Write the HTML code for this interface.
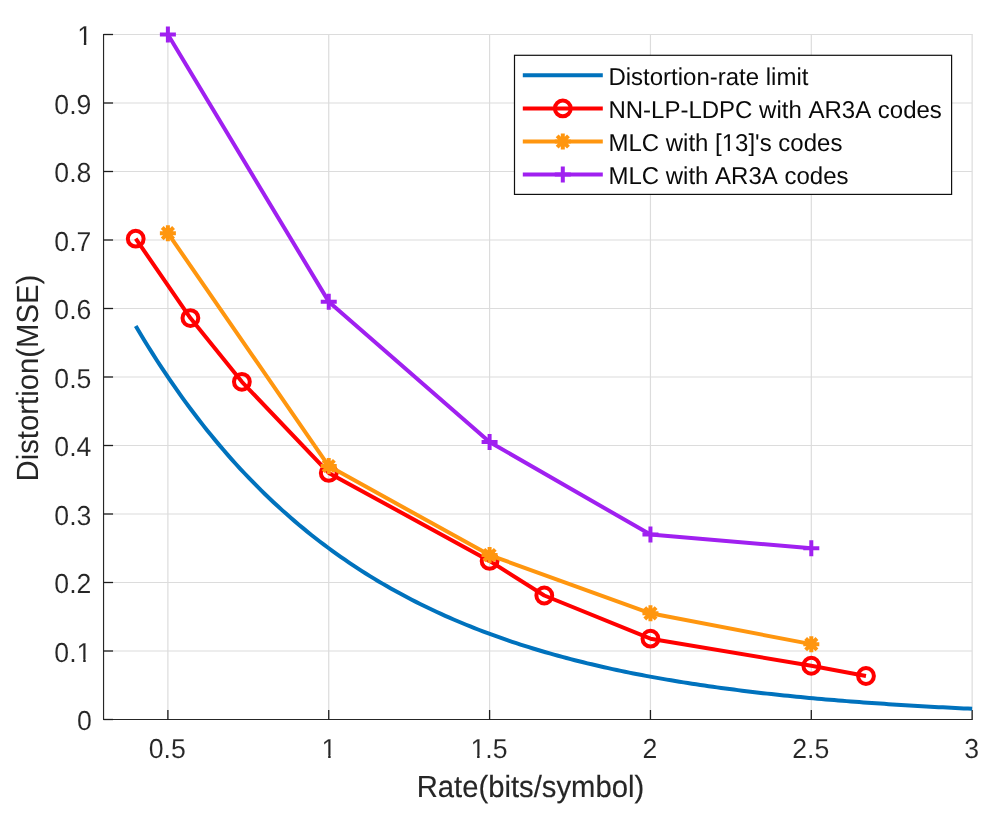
<!DOCTYPE html>
<html lang="en"><head><meta charset="utf-8"><title>Distortion vs Rate</title>
<style>
html,body{margin:0;padding:0;background:#fff;}
body{width:1002px;height:816px;overflow:hidden;}
svg{display:block;}
text{font-family:"Liberation Sans",Arial,Helvetica,sans-serif;fill:#262626;font-kerning:none;text-rendering:geometricPrecision;font-variant-ligatures:none;stroke:#fff;stroke-width:0.2px;paint-order:fill stroke;}
.tick{stroke-width:0.1px;}
.tick{font-size:26.67px;}
.lab{font-size:29.33px;stroke:#262626;stroke-width:0.15px;}
.ylab{stroke:none;}
.leg{font-size:24px;fill:#0a0a0a;stroke:none;}
</style></head><body>
<svg width="1002" height="816" viewBox="0 0 1002 816">
<rect width="1002" height="816" fill="#fff"/>
<g stroke="#dcdcdc" stroke-width="1.2" fill="none">
<line x1="167.89" y1="719.5" x2="167.89" y2="34.5"/>
<line x1="328.74" y1="719.5" x2="328.74" y2="34.5"/>
<line x1="489.59" y1="719.5" x2="489.59" y2="34.5"/>
<line x1="650.45" y1="719.5" x2="650.45" y2="34.5"/>
<line x1="811.30" y1="719.5" x2="811.30" y2="34.5"/>
<line x1="972.15" y1="719.5" x2="972.15" y2="34.5"/>
<line x1="103.55" y1="651.00" x2="972.15" y2="651.00"/>
<line x1="103.55" y1="582.50" x2="972.15" y2="582.50"/>
<line x1="103.55" y1="514.00" x2="972.15" y2="514.00"/>
<line x1="103.55" y1="445.50" x2="972.15" y2="445.50"/>
<line x1="103.55" y1="377.00" x2="972.15" y2="377.00"/>
<line x1="103.55" y1="308.50" x2="972.15" y2="308.50"/>
<line x1="103.55" y1="240.00" x2="972.15" y2="240.00"/>
<line x1="103.55" y1="171.50" x2="972.15" y2="171.50"/>
<line x1="103.55" y1="103.00" x2="972.15" y2="103.00"/>
<line x1="103.55" y1="34.50" x2="972.75" y2="34.50"/>
</g>
<g stroke="#262626" stroke-width="1.15" fill="none" stroke-linecap="butt">
<path d="M103.55 33.95 V719.5 H972.6999999999999"/>
<g stroke-width="1.3" stroke="#1e1e1e">
<line x1="167.89" y1="719.5" x2="167.89" y2="710.0"/>
<line x1="328.74" y1="719.5" x2="328.74" y2="710.0"/>
<line x1="489.59" y1="719.5" x2="489.59" y2="710.0"/>
<line x1="650.45" y1="719.5" x2="650.45" y2="710.0"/>
<line x1="811.30" y1="719.5" x2="811.30" y2="710.0"/>
<line x1="972.15" y1="719.5" x2="972.15" y2="710.0"/>
<line x1="103.55" y1="719.50" x2="113.05" y2="719.50"/>
<line x1="103.55" y1="651.00" x2="113.05" y2="651.00"/>
<line x1="103.55" y1="582.50" x2="113.05" y2="582.50"/>
<line x1="103.55" y1="514.00" x2="113.05" y2="514.00"/>
<line x1="103.55" y1="445.50" x2="113.05" y2="445.50"/>
<line x1="103.55" y1="377.00" x2="113.05" y2="377.00"/>
<line x1="103.55" y1="308.50" x2="113.05" y2="308.50"/>
<line x1="103.55" y1="240.00" x2="113.05" y2="240.00"/>
<line x1="103.55" y1="171.50" x2="113.05" y2="171.50"/>
<line x1="103.55" y1="103.00" x2="113.05" y2="103.00"/>
<line x1="103.55" y1="34.50" x2="113.05" y2="34.50"/>
</g></g>
<g class="tick" text-anchor="middle">
<text class="tick" text-anchor="middle" transform="translate(167.29,757.70) scale(1,1.03)">0.5</text>
<text class="tick" text-anchor="middle" transform="translate(328.94,757.70) scale(1,1.03)">1</text>
<text class="tick" text-anchor="middle" transform="translate(488.99,757.70) scale(1,1.03)">1.5</text>
<text class="tick" text-anchor="middle" transform="translate(649.85,757.70) scale(1,1.03)">2</text>
<text class="tick" text-anchor="middle" transform="translate(810.70,757.70) scale(1,1.03)">2.5</text>
<text class="tick" text-anchor="middle" transform="translate(971.55,757.70) scale(1,1.03)">3</text>
</g>
<g class="tick" text-anchor="end">
<text class="tick" text-anchor="end" transform="translate(91.90,730.10) scale(1,1.03)">0</text>
<text class="tick" text-anchor="end" transform="translate(91.40,661.60) scale(1,1.03)">0.1</text>
<text class="tick" text-anchor="end" transform="translate(91.40,593.10) scale(1,1.03)">0.2</text>
<text class="tick" text-anchor="end" transform="translate(91.40,524.60) scale(1,1.03)">0.3</text>
<text class="tick" text-anchor="end" transform="translate(91.40,456.10) scale(1,1.03)">0.4</text>
<text class="tick" text-anchor="end" transform="translate(91.40,387.60) scale(1,1.03)">0.5</text>
<text class="tick" text-anchor="end" transform="translate(91.40,319.10) scale(1,1.03)">0.6</text>
<text class="tick" text-anchor="end" transform="translate(91.40,250.60) scale(1,1.03)">0.7</text>
<text class="tick" text-anchor="end" transform="translate(91.40,182.10) scale(1,1.03)">0.8</text>
<text class="tick" text-anchor="end" transform="translate(91.40,113.60) scale(1,1.03)">0.9</text>
<text class="tick" text-anchor="end" transform="translate(92.00,45.10) scale(1,1.03)">1</text>
</g>
<rect x="322.93" y="755.10" width="5.25" height="3.4" fill="#fff"/><rect x="330.65" y="755.10" width="5.10" height="3.4" fill="#fff"/><rect x="471.86" y="755.10" width="5.25" height="3.4" fill="#fff"/><rect x="479.58" y="755.10" width="5.10" height="3.4" fill="#fff"/><rect x="77.97" y="659.00" width="5.25" height="3.4" fill="#fff"/><rect x="85.69" y="659.00" width="5.10" height="3.4" fill="#fff"/><rect x="78.57" y="42.50" width="5.25" height="3.4" fill="#fff"/><rect x="86.29" y="42.50" width="5.10" height="3.4" fill="#fff"/>
<text class="lab" text-anchor="middle" transform="translate(530.40,797.00) scale(0.997,1.04)">Rate(bits/symbol)</text>
<text class="lab ylab" text-anchor="middle" transform="translate(38.20,378.10) rotate(-90) scale(0.999,1.045)">Distortion(MSE)</text>
<polyline fill="none" stroke="#0072bd" stroke-width="4" stroke-linejoin="round" points="135.72,326.07 139.90,333.10 144.08,340.00 148.27,346.78 152.45,353.43 156.63,359.97 160.81,366.39 165.00,372.70 169.18,378.89 173.36,384.98 177.54,390.95 181.72,396.82 185.91,402.58 190.09,408.24 194.27,413.80 198.45,419.26 202.63,424.62 206.82,429.89 211.00,435.06 215.18,440.14 219.36,445.13 223.55,450.03 227.73,454.85 231.91,459.57 236.09,464.22 240.27,468.78 244.46,473.25 248.64,477.65 252.82,481.97 257.00,486.21 261.18,490.38 265.37,494.47 269.55,498.49 273.73,502.44 277.91,506.32 282.10,510.12 286.28,513.86 290.46,517.54 294.64,521.14 298.82,524.69 303.01,528.16 307.19,531.58 311.37,534.94 315.55,538.23 319.73,541.47 323.92,544.65 328.10,547.77 332.28,550.84 336.46,553.85 340.65,556.81 344.83,559.72 349.01,562.57 353.19,565.37 357.37,568.13 361.56,570.83 365.74,573.49 369.92,576.09 374.10,578.66 378.28,581.17 382.47,583.64 386.65,586.07 390.83,588.45 395.01,590.79 399.20,593.09 403.38,595.35 407.56,597.57 411.74,599.74 415.92,601.88 420.11,603.98 424.29,606.05 428.47,608.07 432.65,610.06 436.84,612.02 441.02,613.94 445.20,615.82 449.38,617.67 453.56,619.49 457.75,621.28 461.93,623.03 466.11,624.76 470.29,626.45 474.47,628.11 478.66,629.74 482.84,631.35 487.02,632.92 491.20,634.47 495.39,635.99 499.57,637.48 503.75,638.94 507.93,640.38 512.11,641.79 516.30,643.18 520.48,644.54 524.66,645.88 528.84,647.20 533.02,648.49 537.21,649.76 541.39,651.00 545.57,652.23 549.75,653.43 553.94,654.61 558.12,655.77 562.30,656.91 566.48,658.02 570.66,659.12 574.85,660.20 579.03,661.26 583.21,662.30 587.39,663.32 591.57,664.32 595.76,665.31 599.94,666.28 604.12,667.23 608.30,668.16 612.49,669.08 616.67,669.98 620.85,670.86 625.03,671.73 629.21,672.59 633.40,673.42 637.58,674.25 641.76,675.05 645.94,675.85 650.12,676.63 654.31,677.39 658.49,678.15 662.67,678.88 666.85,679.61 671.04,680.32 675.22,681.02 679.40,681.71 683.58,682.38 687.76,683.05 691.95,683.70 696.13,684.34 700.31,684.97 704.49,685.58 708.67,686.19 712.86,686.78 717.04,687.37 721.22,687.94 725.40,688.51 729.59,689.06 733.77,689.60 737.95,690.14 742.13,690.66 746.31,691.18 750.50,691.68 754.68,692.18 758.86,692.67 763.04,693.15 767.22,693.62 771.41,694.08 775.59,694.53 779.77,694.98 783.95,695.42 788.14,695.85 792.32,696.27 796.50,696.68 800.68,697.09 804.86,697.49 809.05,697.89 813.23,698.27 817.41,698.65 821.59,699.02 825.77,699.39 829.96,699.75 834.14,700.10 838.32,700.45 842.50,700.79 846.69,701.12 850.87,701.45 855.05,701.77 859.23,702.09 863.41,702.40 867.60,702.70 871.78,703.00 875.96,703.30 880.14,703.59 884.32,703.87 888.51,704.15 892.69,704.43 896.87,704.70 901.05,704.96 905.24,705.22 909.42,705.47 913.60,705.73 917.78,705.97 921.96,706.21 926.15,706.45 930.33,706.68 934.51,706.91 938.69,707.14 942.87,707.36 947.06,707.57 951.24,707.79 955.42,708.00 959.60,708.20 963.79,708.40 967.97,708.60 972.15,708.80"/>
<polyline fill="none" stroke="#ff0000" stroke-width="4" stroke-linejoin="round" points="135.72,238.63 190.41,318.09 241.88,381.80 328.74,472.90 489.59,560.92 544.28,595.51 650.45,638.67 811.30,665.73 865.99,676.00"/>
<circle cx="135.72" cy="238.63" r="7.9" fill="none" stroke="#ff0000" stroke-width="4"/>
<circle cx="190.41" cy="318.09" r="7.9" fill="none" stroke="#ff0000" stroke-width="4"/>
<circle cx="241.88" cy="381.80" r="7.9" fill="none" stroke="#ff0000" stroke-width="4"/>
<circle cx="328.74" cy="472.90" r="7.9" fill="none" stroke="#ff0000" stroke-width="4"/>
<circle cx="489.59" cy="560.92" r="7.9" fill="none" stroke="#ff0000" stroke-width="4"/>
<circle cx="544.28" cy="595.51" r="7.9" fill="none" stroke="#ff0000" stroke-width="4"/>
<circle cx="650.45" cy="638.67" r="7.9" fill="none" stroke="#ff0000" stroke-width="4"/>
<circle cx="811.30" cy="665.73" r="7.9" fill="none" stroke="#ff0000" stroke-width="4"/>
<circle cx="865.99" cy="676.00" r="7.9" fill="none" stroke="#ff0000" stroke-width="4"/>
<polyline fill="none" stroke="#ff960f" stroke-width="4" stroke-linejoin="round" points="167.89,233.15 328.74,466.05 489.59,555.10 650.45,613.33 811.30,644.15"/>
<path d="M159.89 233.15H175.89M167.89 225.15V241.15M162.23 227.49L173.55 238.81M162.23 238.81L173.55 227.49" fill="none" stroke="#ff960f" stroke-width="4"/>
<path d="M320.74 466.05H336.74M328.74 458.05V474.05M323.09 460.39L334.40 471.71M323.09 471.71L334.40 460.39" fill="none" stroke="#ff960f" stroke-width="4"/>
<path d="M481.59 555.10H497.59M489.59 547.10V563.10M483.94 549.44L495.25 560.76M483.94 560.76L495.25 549.44" fill="none" stroke="#ff960f" stroke-width="4"/>
<path d="M642.45 613.33H658.45M650.45 605.33V621.33M644.79 607.67L656.10 618.98M644.79 618.98L656.10 607.67" fill="none" stroke="#ff960f" stroke-width="4"/>
<path d="M803.30 644.15H819.30M811.30 636.15V652.15M805.64 638.49L816.95 649.81M805.64 649.81L816.95 638.49" fill="none" stroke="#ff960f" stroke-width="4"/>
<polyline fill="none" stroke="#a020f0" stroke-width="4" stroke-linejoin="round" points="167.89,34.50 328.74,301.65 489.59,442.07 650.45,534.55 811.30,548.25"/>
<path d="M159.89 34.50H175.89M167.89 26.50V42.50" fill="none" stroke="#a020f0" stroke-width="4"/>
<path d="M320.74 301.65H336.74M328.74 293.65V309.65" fill="none" stroke="#a020f0" stroke-width="4"/>
<path d="M481.59 442.07H497.59M489.59 434.07V450.07" fill="none" stroke="#a020f0" stroke-width="4"/>
<path d="M642.45 534.55H658.45M650.45 526.55V542.55" fill="none" stroke="#a020f0" stroke-width="4"/>
<path d="M803.30 548.25H819.30M811.30 540.25V556.25" fill="none" stroke="#a020f0" stroke-width="4"/>
<rect x="514.5" y="55.3" width="437.1" height="139.10000000000002" fill="#fff" stroke="#101010" stroke-width="1.2"/>
<line x1="522.8" y1="75.2" x2="602.8" y2="75.2" stroke="#0072bd" stroke-width="4"/>
<text class="leg" text-anchor="start" transform="translate(608.40,84.90) scale(1,1.015)">Distortion-rate limit</text>
<line x1="522.8" y1="108.4" x2="602.8" y2="108.4" stroke="#ff0000" stroke-width="4"/>
<circle cx="562.80" cy="108.40" r="7.9" fill="none" stroke="#ff0000" stroke-width="4"/>
<text class="leg" text-anchor="start" transform="translate(608.40,118.10) scale(1,1.015)">NN-LP-LDPC with AR3A codes</text>
<line x1="522.8" y1="141.5" x2="602.8" y2="141.5" stroke="#ff960f" stroke-width="4"/>
<path d="M554.80 141.50H570.80M562.80 133.50V149.50M557.14 135.84L568.46 147.16M557.14 147.16L568.46 135.84" fill="none" stroke="#ff960f" stroke-width="4"/>
<text class="leg" text-anchor="start" transform="translate(608.40,151.20) scale(1,1.015)">MLC with [13]'s codes</text>
<rect x="723.01" y="148.86" width="4.73" height="3.06" fill="#fff"/><rect x="729.96" y="148.86" width="4.23" height="3.06" fill="#fff"/>
<line x1="522.8" y1="174.6" x2="602.8" y2="174.6" stroke="#a020f0" stroke-width="4"/>
<path d="M554.80 174.60H570.80M562.80 166.60V182.60" fill="none" stroke="#a020f0" stroke-width="4"/>
<text class="leg" text-anchor="start" transform="translate(608.40,184.30) scale(1,1.015)">MLC with AR3A codes</text>
</svg></body></html>
